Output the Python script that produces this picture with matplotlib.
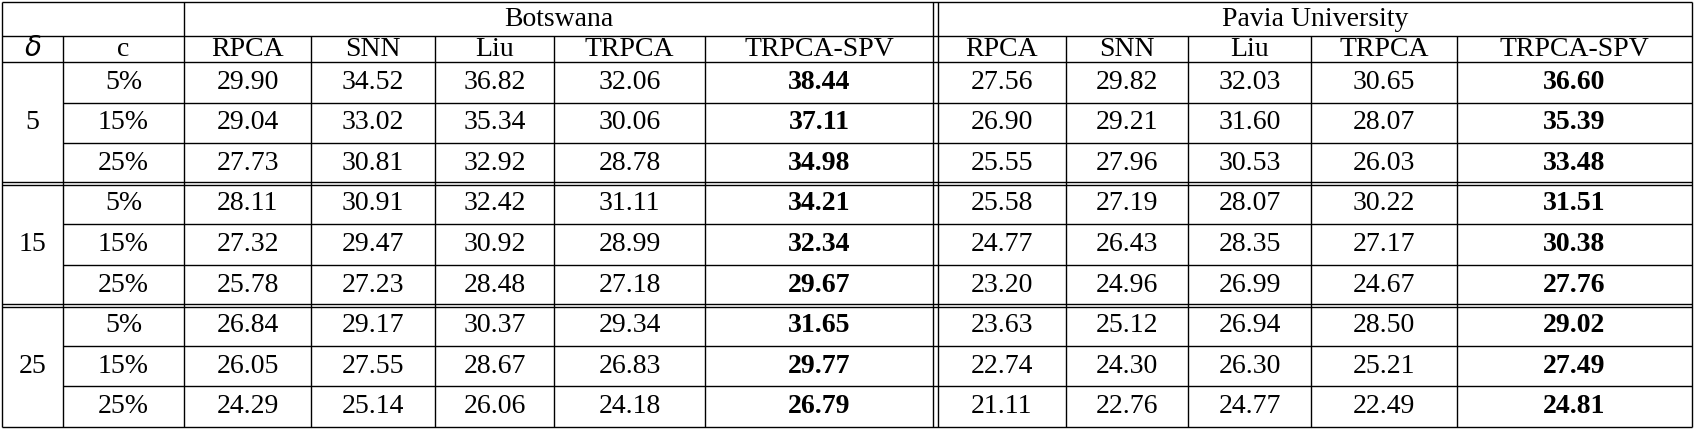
import matplotlib.pyplot as plt

plt.rcParams['font.family'] = ['Liberation Serif', 'DejaVu Serif']

methods = ["RPCA", "SNN", "Liu", "TRPCA", "TRPCA-SPV"]
datasets = ["Botswana", "Pavia University"]
deltas = ["5", "15", "25"]
noise = ["5%", "15%", "25%"]

botswana = [
    [29.90, 34.52, 36.82, 32.06, 38.44],
    [29.04, 33.02, 35.34, 30.06, 37.11],
    [27.73, 30.81, 32.92, 28.78, 34.98],
    [28.11, 30.91, 32.42, 31.11, 34.21],
    [27.32, 29.47, 30.92, 28.99, 32.34],
    [25.78, 27.23, 28.48, 27.18, 29.67],
    [26.84, 29.17, 30.37, 29.34, 31.65],
    [26.05, 27.55, 28.67, 26.83, 29.77],
    [24.29, 25.14, 26.06, 24.18, 26.79],
]
pavia = [
    [27.56, 29.82, 32.03, 30.65, 36.60],
    [26.90, 29.21, 31.60, 28.07, 35.39],
    [25.55, 27.96, 30.53, 26.03, 33.48],
    [25.58, 27.19, 28.07, 30.22, 31.51],
    [24.77, 26.43, 28.35, 27.17, 30.38],
    [23.20, 24.96, 26.99, 24.67, 27.76],
    [23.63, 25.12, 26.94, 28.50, 29.02],
    [22.74, 24.30, 26.30, 25.21, 27.49],
    [21.11, 22.76, 24.77, 22.49, 24.81],
]

W, H = 1696, 429
fig = plt.figure(figsize=(W / 100, H / 100), dpi=100)
ax = fig.add_axes([0, 0, 1, 1])
ax.set_xlim(0, W)
ax.set_ylim(H, 0)
ax.axis("off")

# column edges (pixels)
xl = [2, 63, 184, 311, 435, 554, 705, 933]
xr = [938, 1066, 1188, 1311, 1457, 1692]
y0, y1, y2, yb = 2, 36, 62, 427
rh = (yb - y2) / 9
FS = 20
lw = 1.0

def hl(y, xa, xb, w=lw):
    ax.plot([xa, xb], [y, y], color="black", lw=w, solid_capstyle="butt")

def vl(x, ya, yb_, w=lw):
    ax.plot([x, x], [ya, yb_], color="black", lw=w, solid_capstyle="butt")

def txt(x, y, s, bold=False, **kw):
    ax.text(x, y, s, ha="center", va="center", fontsize=FS,
            fontweight="bold" if bold else "normal", **kw)

# horizontal rules
hl(y0, xl[0], xr[-1])
hl(y1, xl[0], xr[-1])
hl(y2, xl[0], xr[-1])
for i in range(1, 9):
    y = y2 + i * rh
    if i % 3 == 0:
        hl(y - 1.2, xl[0], xr[-1]); hl(y + 1.2, xl[0], xr[-1])
    else:
        hl(y, xl[1], xr[-1])
hl(yb, xl[0], xr[-1])

# vertical rules
vl(xl[0], y0, yb)
vl(xl[1], y1, yb)
vl(xl[2], y0, yb)
for x in xl[3:7]:
    vl(x, y1, yb)
vl(xl[7], y0, yb)
vl(xr[0], y0, yb)
for x in xr[1:5]:
    vl(x, y1, yb)
vl(xr[-1], y0, yb)

# headers
txt((xl[2] + xl[7]) / 2, (y0 + y1) / 2, datasets[0])
txt((xr[0] + xr[-1]) / 2, (y0 + y1) / 2, datasets[1])
hy = (y1 + y2) / 2
txt((xl[0] + xl[1]) / 2, hy, r"$\delta$")
txt((xl[1] + xl[2]) / 2, hy, "c")
for j, m in enumerate(methods):
    txt((xl[2 + j] + xl[3 + j]) / 2, hy, m)
    txt((xr[j] + xr[j + 1]) / 2, hy, m)

# body
for g, d in enumerate(deltas):
    txt((xl[0] + xl[1]) / 2, y2 + (g * 3 + 1.5) * rh, d)
for i in range(9):
    yc = y2 + (i + 0.5) * rh
    txt((xl[1] + xl[2]) / 2, yc, noise[i % 3])
    for j in range(5):
        txt((xl[2 + j] + xl[3 + j]) / 2, yc, f"{botswana[i][j]:.2f}", bold=(j == 4))
        txt((xr[j] + xr[j + 1]) / 2, yc, f"{pavia[i][j]:.2f}", bold=(j == 4))

fig.savefig("out.png", dpi=100, facecolor="white")
